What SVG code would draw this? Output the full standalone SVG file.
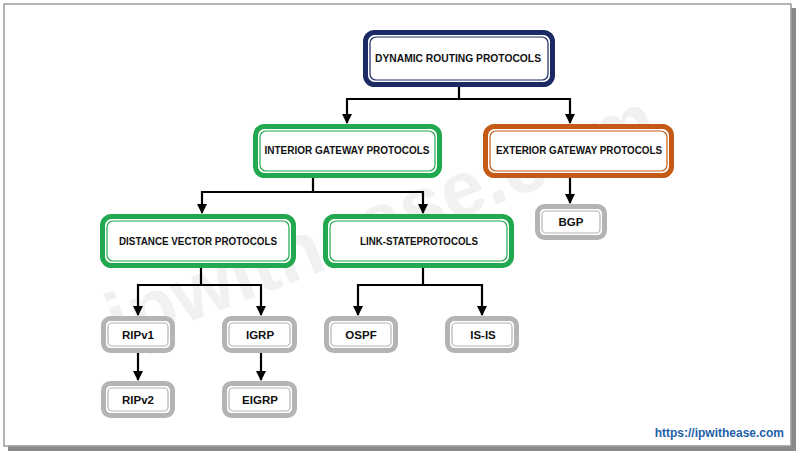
<svg xmlns="http://www.w3.org/2000/svg" width="800" height="455" viewBox="0 0 800 455">
<defs>
<marker id="arr" viewBox="0 0 10 10" refX="9" refY="5" markerWidth="4.6" markerHeight="4.6" orient="auto" markerUnits="strokeWidth">
<path d="M0,0 L10,5 L0,10 Z" fill="#000"/>
</marker>
<style>
.lbl{font-family:"Liberation Sans",Arial,sans-serif;font-weight:bold;font-size:10.5px;fill:#111;text-anchor:middle}
.sm{font-size:11.5px}
.o{fill:#fff;stroke-width:5}
.i{fill:none;stroke-width:1.2}
.navy{stroke:#1b2a64}
.green{stroke:#22a84e}
.orange{stroke:#c55a17}
.gray{stroke:#b4b4b4}
.conn{fill:none;stroke:#000;stroke-width:2.2}
</style>
</defs>
<rect width="800" height="455" fill="#fff"/>
<rect x="8" y="8" width="788" height="443" fill="#8a8a8a"/>
<rect x="4" y="4" width="787" height="442" fill="#fff" stroke="#9a9a9a" stroke-width="1.5"/>
<text x="390" y="245" transform="rotate(-21 390 245)" font-family="'Liberation Sans',Arial,sans-serif" font-weight="bold" font-size="78" fill="#f1f1f1" text-anchor="middle">ipwithease.com</text>

<g id="connectors">
<path class="conn" d="M459,87 V99 M347,99 H570" />
<path class="conn" d="M347,98 V123" marker-end="url(#arr)"/>
<path class="conn" d="M570,98 V123" marker-end="url(#arr)"/>
<path class="conn" d="M313,178 V192 M202,192 H423"/>
<path class="conn" d="M202,191 V213" marker-end="url(#arr)"/>
<path class="conn" d="M423,191 V213" marker-end="url(#arr)"/>
<path class="conn" d="M570,178 V203" marker-end="url(#arr)"/>
<path class="conn" d="M201,268 V285 M138,285 H261"/>
<path class="conn" d="M138,284 V315" marker-end="url(#arr)"/>
<path class="conn" d="M261,284 V315" marker-end="url(#arr)"/>
<path class="conn" d="M423,268 V285 M358,285 H482"/>
<path class="conn" d="M358,284 V315" marker-end="url(#arr)"/>
<path class="conn" d="M482,284 V315" marker-end="url(#arr)"/>
<path class="conn" d="M138,353 V380" marker-end="url(#arr)"/>
<path class="conn" d="M261,353 V380" marker-end="url(#arr)"/>
</g>

<g id="dynamic">
<rect class="o navy" x="365.5" y="32.5" width="187" height="52" rx="9"/>
<rect class="i navy" x="370" y="37" width="178" height="43" rx="6"/>
<text class="lbl" x="458" y="62" textLength="166" lengthAdjust="spacingAndGlyphs">DYNAMIC ROUTING PROTOCOLS</text>
</g>
<g id="interior">
<rect class="o green" x="255.5" y="126.5" width="184" height="49" rx="9"/>
<rect class="i green" x="260" y="131" width="175" height="40" rx="6"/>
<text class="lbl" x="347" y="154" textLength="165" lengthAdjust="spacingAndGlyphs">INTERIOR GATEWAY PROTOCOLS</text>
</g>
<g id="exterior">
<rect class="o orange" x="485.5" y="126.5" width="186" height="49" rx="9"/>
<rect class="i orange" x="490" y="131" width="177" height="40" rx="6"/>
<text class="lbl" x="579" y="154" textLength="166" lengthAdjust="spacingAndGlyphs">EXTERIOR GATEWAY PROTOCOLS</text>
</g>
<g id="distance">
<rect class="o green" x="102.5" y="216.5" width="191" height="49" rx="9"/>
<rect class="i green" x="107" y="221" width="182" height="40" rx="6"/>
<text class="lbl" x="198" y="245" textLength="158" lengthAdjust="spacingAndGlyphs">DISTANCE VECTOR PROTOCOLS</text>
</g>
<g id="linkstate">
<rect class="o green" x="325.5" y="216.5" width="186" height="49" rx="9"/>
<rect class="i green" x="330" y="221" width="177" height="40" rx="6"/>
<text class="lbl" x="419" y="245" textLength="118" lengthAdjust="spacingAndGlyphs">LINK-STATEPROTOCOLS</text>
</g>
<g id="bgp">
<rect class="o gray" x="537.5" y="206.5" width="67" height="31" rx="7"/>
<rect class="i gray" x="542" y="211" width="58" height="22" rx="4"/>
<text class="lbl sm" x="571" y="226">BGP</text>
</g>
<g id="ripv1">
<rect class="o gray" x="103.5" y="318.5" width="69" height="32" rx="7"/>
<rect class="i gray" x="108" y="323" width="60" height="23" rx="4"/>
<text class="lbl sm" x="138" y="338.5">RIPv1</text>
</g>
<g id="igrp">
<rect class="o gray" x="224.5" y="318.5" width="70" height="32" rx="7"/>
<rect class="i gray" x="229" y="323" width="61" height="23" rx="4"/>
<text class="lbl sm" x="260" y="338.5">IGRP</text>
</g>
<g id="ospf">
<rect class="o gray" x="326.5" y="318.5" width="69" height="32" rx="7"/>
<rect class="i gray" x="331" y="323" width="60" height="23" rx="4"/>
<text class="lbl sm" x="361" y="338.5">OSPF</text>
</g>
<g id="isis">
<rect class="o gray" x="447.5" y="318.5" width="69" height="32" rx="7"/>
<rect class="i gray" x="452" y="323" width="60" height="23" rx="4"/>
<text class="lbl sm" x="483" y="338.5">IS-IS</text>
</g>
<g id="ripv2">
<rect class="o gray" x="103.5" y="383.5" width="69" height="32" rx="7"/>
<rect class="i gray" x="108" y="388" width="60" height="23" rx="4"/>
<text class="lbl sm" x="138" y="403.5">RIPv2</text>
</g>
<g id="eigrp">
<rect class="o gray" x="224.5" y="383.5" width="70" height="32" rx="7"/>
<rect class="i gray" x="229" y="388" width="61" height="23" rx="4"/>
<text class="lbl sm" x="260" y="403.5">EIGRP</text>
</g>
<text x="784" y="437" font-family="'Liberation Sans',Arial,sans-serif" font-weight="bold" font-size="12" fill="#1f5fa8" text-anchor="end">https://ipwithease.com</text>
</svg>
